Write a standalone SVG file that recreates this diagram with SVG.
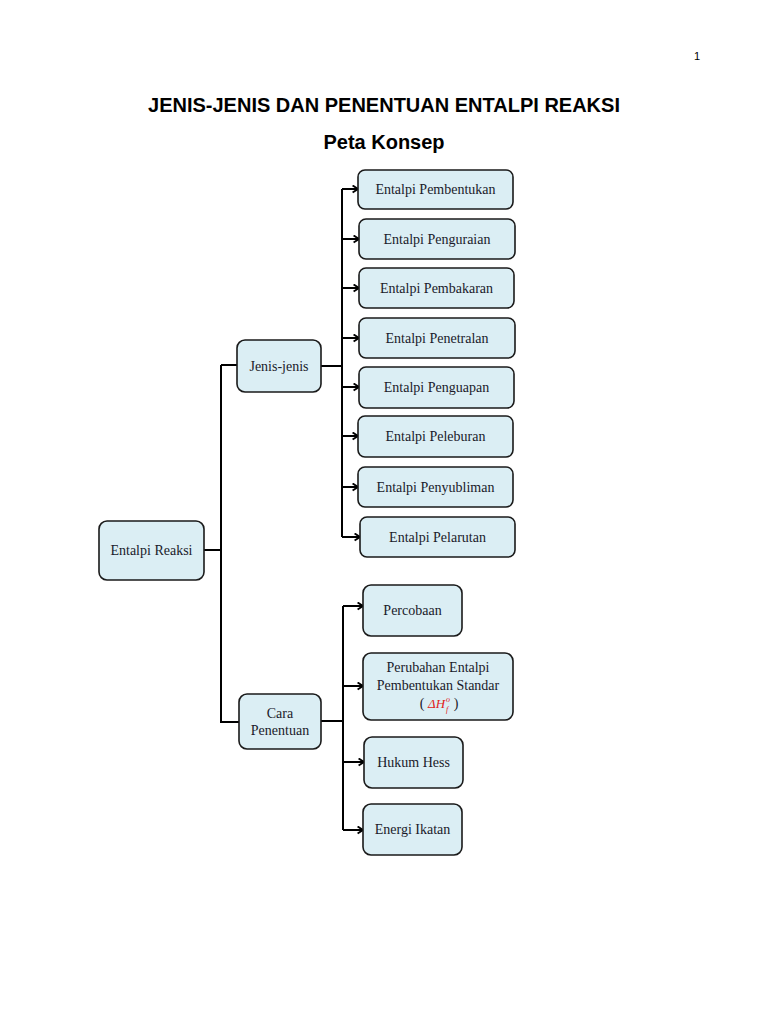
<svg xmlns="http://www.w3.org/2000/svg" width="768" height="1024" viewBox="0 0 768 1024">
<defs>
<style>
.box{fill:#dbeef4;stroke:#1a1a1a;stroke-width:1.6}
.lbl{font-family:"Liberation Serif","DejaVu Serif",serif;font-size:14px;fill:#1a1a2a;text-anchor:middle}
.title{font-family:"Liberation Sans",Arial,sans-serif;font-weight:bold;font-size:20px;fill:#000;text-anchor:middle}
.con{fill:none;stroke:#000;stroke-width:2}
.arr{fill:none;stroke:#000;stroke-width:2;marker-end:url(#ah)}
.red{font-family:"Liberation Serif","DejaVu Serif",serif;fill:#e02020;font-style:italic}
</style>
<marker id="ah" viewBox="0 0 10 10" refX="9" refY="5" markerWidth="9" markerHeight="9" orient="auto" markerUnits="userSpaceOnUse">
<path d="M3,1 L9,5 L3,9" fill="none" stroke="#000" stroke-width="2"/>
</marker>
</defs>
<rect width="768" height="1024" fill="#fff"/>
<text x="697" y="60" font-family="Liberation Sans,Arial,sans-serif" font-size="11" text-anchor="middle">1</text>
<text class="title" x="384" y="112">JENIS-JENIS DAN PENENTUAN ENTALPI REAKSI</text>
<text class="title" x="384" y="149">Peta Konsep</text>

<g id="connectors">
<path class="con" d="M204,550 H221 M221,365 V723"/>
<path class="con" d="M221,365 H237 M221,722 H239"/>
<path class="con" d="M321,366 H342 M342,189 V537"/>
<path class="arr" d="M342,189 H358"/>
<path class="arr" d="M342,239 H359"/>
<path class="arr" d="M342,288 H359"/>
<path class="arr" d="M342,338 H359"/>
<path class="arr" d="M342,387 H359"/>
<path class="arr" d="M342,436 H358"/>
<path class="arr" d="M342,487 H358"/>
<path class="arr" d="M342,537 H360"/>
<path class="con" d="M321,721 H343 M343,606 V830"/>
<path class="arr" d="M343,606 H363"/>
<path class="arr" d="M343,686 H363"/>
<path class="arr" d="M343,762 H364"/>
<path class="arr" d="M343,830 H363"/>
</g>

<g id="n-reaksi"><rect class="box" x="99" y="521" width="105" height="59" rx="8"/><text class="lbl" x="151.5" y="555">Entalpi Reaksi</text></g>
<g id="n-jenis"><rect class="box" x="237" y="340" width="84" height="52" rx="8"/><text class="lbl" x="279" y="371">Jenis-jenis</text></g>
<g id="n-cara"><rect class="box" x="239" y="694" width="82" height="55" rx="8"/><text class="lbl" x="280" y="718">Cara</text><text class="lbl" x="280" y="735">Penentuan</text></g>

<g id="n-pembentukan"><rect class="box" x="358" y="170" width="155" height="39" rx="7"/><text class="lbl" x="435.5" y="194">Entalpi Pembentukan</text></g>
<g id="n-penguraian"><rect class="box" x="359" y="219" width="156" height="40" rx="7"/><text class="lbl" x="437" y="244">Entalpi Penguraian</text></g>
<g id="n-pembakaran"><rect class="box" x="359" y="268" width="155" height="40" rx="7"/><text class="lbl" x="436.5" y="293">Entalpi Pembakaran</text></g>
<g id="n-penetralan"><rect class="box" x="359" y="318" width="156" height="40" rx="7"/><text class="lbl" x="437" y="343">Entalpi Penetralan</text></g>
<g id="n-penguapan"><rect class="box" x="359" y="367" width="155" height="41" rx="7"/><text class="lbl" x="436.5" y="392">Entalpi Penguapan</text></g>
<g id="n-peleburan"><rect class="box" x="358" y="416" width="155" height="41" rx="7"/><text class="lbl" x="435.5" y="441">Entalpi Peleburan</text></g>
<g id="n-penyubliman"><rect class="box" x="358" y="467" width="155" height="40" rx="7"/><text class="lbl" x="435.5" y="492">Entalpi Penyubliman</text></g>
<g id="n-pelarutan"><rect class="box" x="360" y="517" width="155" height="40" rx="7"/><text class="lbl" x="437.5" y="542">Entalpi Pelarutan</text></g>

<g id="n-percobaan"><rect class="box" x="363" y="585" width="99" height="51" rx="8"/><text class="lbl" x="412.5" y="615">Percobaan</text></g>
<g id="n-perubahan"><rect class="box" x="363" y="653" width="150" height="67" rx="8"/>
<text class="lbl" x="438" y="672">Perubahan Entalpi</text>
<text class="lbl" x="438" y="690">Pembentukan Standar</text>
<text class="lbl" x="422" y="708">(</text>
<text class="red" x="428" y="708" font-size="13">ΔH</text>
<text class="red" x="446" y="702" font-size="8">o</text>
<text class="red" x="446" y="712" font-size="8">f</text>
<text class="lbl" x="456" y="708">)</text>
</g>
<g id="n-hess"><rect class="box" x="364" y="737" width="99" height="51" rx="8"/><text class="lbl" x="413.5" y="767">Hukum Hess</text></g>
<g id="n-ikatan"><rect class="box" x="363" y="804" width="99" height="51" rx="8"/><text class="lbl" x="412.5" y="834">Energi Ikatan</text></g>
</svg>
